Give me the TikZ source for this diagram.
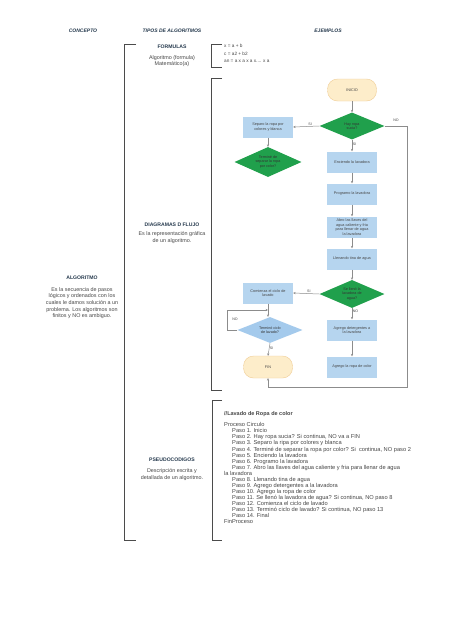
\documentclass[tikz,border=0pt]{standalone}
\usepackage{fontspec}
\setmainfont{Liberation Sans}
\usetikzlibrary{shapes.geometric,arrows.meta}

\definecolor{boxblue}{RGB}{182,213,239}
\definecolor{lightblue}{RGB}{164,202,236}
\definecolor{dgreen}{RGB}{32,160,76}
\definecolor{termfill}{RGB}{253,237,202}
\definecolor{termdraw}{RGB}{240,205,150}
\definecolor{linegray}{RGB}{140,140,140}
\definecolor{brkgray}{RGB}{75,75,75}
\definecolor{headcol}{RGB}{38,58,78}
\definecolor{txtgray}{RGB}{70,70,70}

\begin{document}
\begin{tikzpicture}[x=1pt,y=-1pt,
  >={Stealth[length=2.4pt,width=2.2pt]},
  head/.style={font=\fontsize{5}{6}\selectfont\bfseries\itshape,text=headcol},
  title/.style={font=\fontsize{5.1}{6}\selectfont\bfseries,text=headcol},
  desc/.style={font=\fontsize{5.4}{6.7}\selectfont,text=txtgray,align=center},
  brk/.style={draw=brkgray,line width=0.8pt},
  flow/.style={draw=linegray,line width=0.5pt},
  proc/.style={rectangle,fill=boxblue,minimum width=50pt,minimum height=21pt,inner sep=1pt,align=center,font=\fontsize{3.8}{4.5}\selectfont,text=txtgray},
  term/.style={rectangle,rounded corners=10pt,fill=termfill,draw=termdraw,line width=0.4pt,minimum width=49pt,minimum height=22pt,font=\fontsize{3.8}{4.5}\selectfont,text=txtgray},
  decide/.style={diamond,aspect=2.4,inner sep=0.5pt,fill=dgreen,minimum width=65pt,minimum height=27pt,align=center,font=\fontsize{3.7}{4.4}\selectfont,text=black!80},
  lbl/.style={font=\fontsize{3.6}{4}\selectfont,text=txtgray,inner sep=0.5pt}]

  \useasboundingbox[fill=white] (0,0) rectangle (474,632);

  % column headers
  \node[head] (hconcepto) at (83,31) {CONCEPTO};
  \node[head] (htipos) at (172,31) {TIPOS DE ALGORITMOS};
  \node[head] (hejemplos) at (328,31) {EJEMPLOS};

  % brackets
  \draw[brk] (136,44) -- (124,44) -- (124,540) -- (136,540);
  \draw[brk] (222,44) -- (211,44) -- (211,67) -- (222,67);
  \draw[brk] (222,78) -- (211,78) -- (211,390) -- (222,390);
  \draw[brk] (222,400) -- (212,400) -- (212,540) -- (222,540);

  % concept
  \node[title] (algoritmo) at (82,278) {ALGORITMO};
  \node[desc] (algdesc) at (82,303) {Es la secuencia de pasos\\l\'ogicos y ordenados con los\\cuales le damos soluci\'on a un\\problema. Los algoritmos son\\finitos y NO es ambiguo.};

  % types
  \node[title] (formulas) at (172,47) {FORMULAS};
  \node[desc] (formdesc) at (172,61) {Algoritmo (formula)\\Matem\'atico(a)};
  \node[title] (diagramas) at (172,225) {DIAGRAMAS D FLUJO};
  \node[desc] (diagdesc) at (172,237.5) {Es la representaci\'on gr\'afica\\de un algoritmo.};
  \node[title] (pseudo) at (172,460) {PSEUDOCODIGOS};
  \node[desc] (pseudesc) at (172,474.5) {Descripci\'on escrita y\\detallada de un algoritmo.};

  % formulas
  \node[anchor=north west,inner sep=0pt,align=left,text=txtgray,
        font=\fontsize{4.7}{7.6}\selectfont] (formej) at (224,44)
        {x = a + b\\c = a2 + b2\\an = a x a x a x.... x a};

  % flowchart
  \node[term] (inicio) at (352,90) {INICIO};
  \node[decide] (q1) at (352,126) {Hay ropa\\sucia?};
  \node[proc] (separo) at (268,127) {Separo la ropa por\\colores y blanca};
  \node[decide,minimum width=67pt,minimum height=30pt] (q2) at (268,162) {Termin\'e de\\separar la ropa\\por color?};
  \node[proc] (enciendo) at (352,162) {Enciendo la lavadora};
  \node[proc] (programo) at (352,194) {Programo la lavadora};
  \node[proc] (abro) at (352,227) {Abro las llaves del\\agua caliente y fria\\para llenar de agua\\la lavadora};
  \node[proc] (llenando) at (352,259) {Llenando tina de agua};
  \node[decide,minimum height=28pt] (q3) at (352,294) {Se llen\'o la\\lavadora de\\agua?};
  \node[proc] (comienza) at (268,293) {Comienza el ciclo de\\lavado};
  \node[proc] (detergente) at (352,330) {Agrego detergentes a\\la lavadora};
  \node[proc] (ropacolor) at (352,367) {Agrego la ropa de color};
  \node[decide,fill=lightblue,minimum height=26pt] (q4) at (270,330) {Termin\'o ciclo\\de lavado?};
  \node[term] (fin) at (268,367) {FIN};

  \coordinate (loopR) at (407,387);
  \coordinate (loopL) at (227,310);

  \draw[flow,->] (inicio) -- (q1);
  \draw[flow,->] (q1.west) -- (separo.east) node[lbl,pos=0.35,above] {SI};
  \draw[flow,->] (q1.south) -- (enciendo.north) node[lbl,pos=0.4,right] {SI};
  \draw[flow,->] (q1.east) -| (loopR) -| (fin.south);
  \node[lbl] (nolbl1) at (396,120) {NO};
  \draw[flow,->] (separo) -- (q2);
  \draw[flow,->] (enciendo) -- (programo);
  \draw[flow,->] (programo) -- (abro);
  \draw[flow,->] (abro) -- (llenando);
  \draw[flow,->] (llenando) -- (q3);
  \draw[flow,->] (q3.west) -- (comienza.east) node[lbl,pos=0.4,above] {SI};
  \draw[flow,->] (q3.south) -- (detergente.north) node[lbl,pos=0.3,right] {NO};
  \draw[flow,->] (detergente) -- (ropacolor);
  \draw[flow,->] (comienza.south) -- (comienza.south |- q4.north);
  \draw[flow,->] (q4.west) -| (loopL) -- (comienza.south |- loopL);
  \node[lbl] (nolbl2) at (235,319) {NO};
  \draw[flow,->] (q4.south) -- (fin.north) node[lbl,pos=0.4,right] {SI};

  % pseudocode
  \node[anchor=west,inner sep=0pt,text=txtgray,font=\fontsize{5.5}{6}\selectfont\bfseries] (pstitle) at (224,414) {//Lavado de Ropa de color};
  \node[anchor=north west,inner sep=0pt,align=left,text=txtgray,
        font=\fontsize{5.7}{6.05}\selectfont] (psbody) at (224,422.5)
  {Proceso Circulo\\
   \hspace*{8pt}Paso 1. Inicio\\
   \hspace*{8pt}Paso 2. Hay ropa sucia? Si continua, NO va a FIN\\
   \hspace*{8pt}Paso 3. Separo la ripa por colores y blanca\\
   \hspace*{8pt}Paso 4. Termin\'e de separar la ropa por color? Si \ continua, NO paso 2\\
   \hspace*{8pt}Paso 5. Enciendo la lavadora\\
   \hspace*{8pt}Paso 6. Programo la lavadora\\
   \hspace*{8pt}Paso 7. Abro las llaves del agua caliente y fria para llenar de agua\\
   la lavadora\\
   \hspace*{8pt}Paso 8. Llenando tina de agua\\
   \hspace*{8pt}Paso 9. Agrego detergentes a la lavadora\\
   \hspace*{8pt}Paso 10. Agrego la ropa de color\\
   \hspace*{8pt}Paso 11. Se llen\'o la lavadora de agua? Si continua, NO paso 8\\
   \hspace*{8pt}Paso 12. Comienza el ciclo de lavado\\
   \hspace*{8pt}Paso 13. Termin\'o ciclo de lavado? Si continua, NO paso 13\\
   \hspace*{8pt}Paso 14. Final\\
   FinProceso};
\end{tikzpicture}
\end{document}
